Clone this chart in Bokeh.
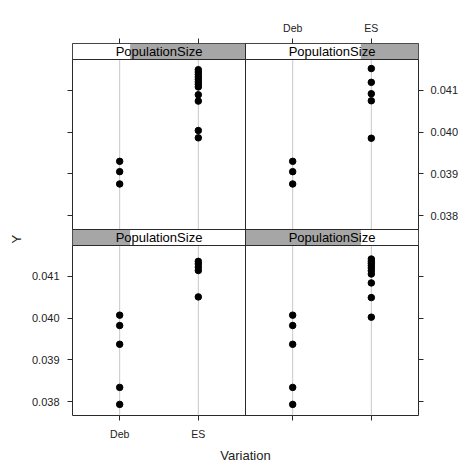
from bokeh.plotting import figure
from bokeh.models import Range1d, LinearAxis, FixedTicker, CustomJSTickFormatter, Title
from bokeh.embed import file_html
from bokeh.resources import INLINE
from bokeh.core.properties import value

# ---------------- data ----------------
categories = ["Deb", "ES"]
y_ticks = [0.038, 0.039, 0.040, 0.041]
strip_label = "PopulationSize"
x_label = "Variation"
y_label = "Y"

# panels (lattice order: bottom-left, bottom-right, top-left, top-right)
bl_deb = [0.040072, 0.039824, 0.039375, 0.038343, 0.037936]
bl_es = [0.041360, 0.041300, 0.041220, 0.041140, 0.040510]
br_deb = [0.040072, 0.039824, 0.039375, 0.038343, 0.037936]
br_es = [0.041416, 0.041359, 0.041310, 0.041256, 0.041200, 0.041136,
         0.041057, 0.040844, 0.040493, 0.040024]
tl_deb = [0.039302, 0.039055, 0.038760]
tl_es = [0.041497, 0.041440, 0.041384, 0.041324, 0.041264, 0.041204,
         0.041144, 0.041084, 0.040896, 0.040744, 0.040040, 0.039865]
tr_deb = [0.039302, 0.039055, 0.038760]
tr_es = [0.041523, 0.041193, 0.040921, 0.040752, 0.039855]

# shingle level intervals shown in the strips (fraction of strip width)
strip_lo = {"bl": 0.0, "br": 0.0, "tl": 1 / 3, "tr": 2 / 3}
strip_hi = {"bl": 1 / 3, "br": 2 / 3, "tl": 1.0, "tr": 1.0}

# ---------------- geometry ----------------
PW, PH = 173, 186          # panel size in px (strip included)
STRIP_PX = 16
X0, X1 = 0.4, 2.6
W = X1 - X0
Y0, PTOP = 0.03767, 0.04174
YEND = PTOP + STRIP_PX * (PTOP - Y0) / (PH - STRIP_PX)
H = YEND - Y0

FONT = "Liberation Sans"
DARK = "#222222"
BORDER = "#2a2a2a"
REF = "#c8c8c8"
SHADE = "#a6a6a6"

p = figure(frame_width=2 * PW, frame_height=2 * PH,
           x_range=Range1d(X0, X0 + 2 * W), y_range=Range1d(Y0, Y0 + 2 * H),
           x_axis_type=None, y_axis_type=None,
           output_backend="svg", toolbar_location=None,
           min_border_left=72, min_border_right=54,
           min_border_top=43, min_border_bottom=57)
p.extra_x_ranges = {"xr": Range1d(X0 - W, X1)}
p.extra_y_ranges = {"yt": Range1d(Y0 - H, YEND)}
p.outline_line_color = BORDER
p.background_fill_color = "white"
p.border_fill_color = "white"

xs = [i + 1 for i in range(len(categories))]


def panel(key, deb, es, xr, yr):
    kw = dict(x_range_name=xr, y_range_name=yr)
    p.segment(x0=xs, y0=[Y0] * len(xs), x1=xs, y1=[PTOP] * len(xs),
              line_color=REF, line_width=1, **kw)
    p.scatter(x=[xs[0]] * len(deb), y=deb, size=6.5, color="black", **kw)
    p.scatter(x=[xs[1]] * len(es), y=es, size=6.5, color="black", **kw)
    p.quad(left=[X0], right=[X1], bottom=[PTOP], top=[YEND],
           fill_color="white", line_color=None, **kw)
    lo = X0 + W * strip_lo[key]
    hi = X0 + W * strip_hi[key]
    p.quad(left=[lo], right=[hi], bottom=[PTOP], top=[YEND],
           fill_color=SHADE, line_color=None, **kw)
    p.quad(left=[X0], right=[X1], bottom=[PTOP], top=[YEND],
           fill_color=None, line_color=BORDER, line_width=1, **kw)
    p.text(x=[(X0 + X1) / 2], y=[(PTOP + YEND) / 2], text=[strip_label],
           text_align="center", text_baseline="middle",
           text_font=value(FONT), text_font_size="13px", text_color="black", **kw)


panel("bl", bl_deb, bl_es, "default", "default")
panel("br", br_deb, br_es, "xr", "default")
panel("tl", tl_deb, tl_es, "default", "yt")
panel("tr", tr_deb, tr_es, "xr", "yt")

# panel dividers
p.segment(x0=[X1], y0=[Y0], x1=[X1], y1=[Y0 + 2 * H], line_color=BORDER, line_width=1)
p.segment(x0=[X0], y0=[YEND], x1=[X0 + 2 * W], y1=[YEND], line_color=BORDER, line_width=1)

# ---------------- axes ----------------
x_tick_pos = xs + [x + W for x in xs]
y_tick_pos = y_ticks + [y + H for y in y_ticks]


def x_fmt(first_panel):
    cond = "tick < split" if first_panel else "tick > split"
    return CustomJSTickFormatter(
        args=dict(cats=categories, split=X1, w=W),
        code=f"if ({cond}) {{ const i = Math.round(tick > split ? tick - w : tick) - 1; return cats[i]; }} return '';")


def y_fmt(bottom_panel):
    cond = "tick < split" if bottom_panel else "tick > split"
    return CustomJSTickFormatter(
        args=dict(split=YEND, h=H),
        code=f"if ({cond}) {{ const v = tick > split ? tick - h : tick; return v.toFixed(3); }} return '';")


def style(ax, size, standoff):
    ax.axis_line_color = None
    ax.major_tick_in = 0
    ax.major_tick_out = 5
    ax.major_tick_line_color = BORDER
    ax.minor_tick_line_color = None
    ax.major_label_text_font = FONT
    ax.major_label_text_font_size = size
    ax.major_label_text_color = DARK
    ax.major_label_standoff = standoff
    ax.axis_label_text_font = FONT
    ax.axis_label_text_font_size = "13px"
    ax.axis_label_text_font_style = "normal"
    ax.axis_label_text_color = DARK
    return ax


below = style(LinearAxis(ticker=FixedTicker(ticks=x_tick_pos), formatter=x_fmt(True),
                         axis_label=x_label, axis_label_standoff=5), "10.5px", 7)
above = style(LinearAxis(ticker=FixedTicker(ticks=x_tick_pos), formatter=x_fmt(False)),
              "10.5px", 5)
left = style(LinearAxis(ticker=FixedTicker(ticks=y_tick_pos), formatter=y_fmt(True)),
             "11px", 8)
right = style(LinearAxis(ticker=FixedTicker(ticks=y_tick_pos), formatter=y_fmt(False)),
              "11px", 7)
p.add_layout(below, "below")
p.add_layout(above, "above")
p.add_layout(left, "left")
p.add_layout(right, "right")

# y label as a side title, anchored at the frame bottom and lifted to sit
# a little below the frame centre, as in the reference
p.add_layout(Title(text=y_label, align="left", offset=172, standoff=9,
                   text_font=FONT, text_font_size="13px", text_font_style="normal",
                   text_color=DARK), "left")

open("out.html", "w").write(file_html(p, INLINE))
